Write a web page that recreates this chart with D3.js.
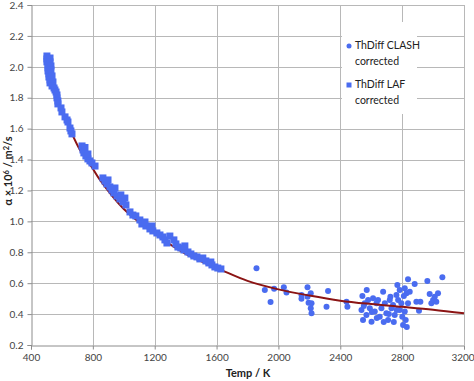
<!DOCTYPE html>
<html><head><meta charset="utf-8">
<script src="https://cdn.jsdelivr.net/npm/d3@7"></script>
<style>
html,body{margin:0;padding:0;background:#fff;}
text{font-family:Lato,"Noto Sans",sans-serif;}
</style></head>
<body><svg id="c" width="474" height="381"></svg>
<script>
// ---- data ----
const xTicks = [400, 800, 1200, 1600, 2000, 2400, 2800, 3200];
const yTicks = [0.2, 0.4, 0.6, 0.8, 1.0, 1.2, 1.4, 1.6, 1.8, 2.0, 2.2, 2.4];
const xTickLabels = ["400","800","1200","1600","2000","2400","2800","3200"];
const yTickLabels = ["0.2","0.4","0.6","0.8","1.0","1.2","1.4","1.6","1.8","2.0","2.2","2.4"];
const seriesNames = ["ThDiff CLASH corrected", "ThDiff LAF corrected"];
// LAF (squares): [T, alpha]
const lafT = [503,503,503,510,510,510,516,516,523,523,523,523,529,529,536,542,536,549,555,562,568,568,574,574,594,600,620,633,639,652,658,665,730,736,742,755,768,781,794,814,865,878,891,910,923,936,956,975,995,1014,1040,1059,1078,1104,1117,1143,1169,1188,1214,1234,1253,1266,1279,1324,1337,1350,1369,1389,1415,1434,1453,1473,1492,1531,1550,1570,1589,1608,1628,898,943,981,1007,1137,1182,1298,1395,1511,1563,768,749];
const lafA = [2.07,2.051,2.032,2.012,1.993,1.973,1.954,1.934,1.915,1.896,2.057,2.032,2.006,1.98,1.941,1.902,1.876,1.863,1.85,1.837,1.818,1.799,1.779,1.76,1.734,1.708,1.676,1.656,1.643,1.604,1.585,1.566,1.488,1.462,1.443,1.423,1.404,1.391,1.378,1.358,1.281,1.261,1.242,1.223,1.203,1.184,1.164,1.145,1.126,1.106,1.061,1.041,1.035,1.009,0.983,0.97,0.951,0.938,0.925,0.912,0.899,0.88,0.86,0.88,0.854,0.834,0.828,0.815,0.802,0.789,0.776,0.77,0.757,0.744,0.731,0.718,0.705,0.698,0.692,1.268,1.216,1.171,1.151,0.996,0.97,0.905,0.841,0.763,0.737,1.436,1.478];
// CLASH (circles): [T, alpha]
const clashT = [1858,1912,1949,1972,2035,2052,2149,2149,2188,2188,2209,2195,2214,2209,2214,2321,2311,2440,2446,2543,2537,2547,2558,2569,2580,2591,2602,2612,2623,2634,2644,2655,2666,2677,2688,2698,2709,2720,2724,2731,2741,2752,2763,2769,2774,2784,2784,2795,2801,2806,2817,2817,2823,2828,2838,2838,2849,2881,2892,2909,2918,2963,2978,2989,3000,3011,3021,3032,3060,2552,2571,2604,2636,2681,2714,2746,2765,2811,2830];
const clashA = [0.696,0.556,0.478,0.564,0.573,0.539,0.524,0.5,0.573,0.513,0.535,0.474,0.47,0.437,0.405,0.549,0.448,0.48,0.448,0.517,0.427,0.362,0.47,0.394,0.491,0.437,0.351,0.502,0.416,0.47,0.491,0.383,0.437,0.545,0.47,0.405,0.362,0.491,0.513,0.437,0.459,0.394,0.524,0.588,0.491,0.556,0.427,0.47,0.383,0.329,0.567,0.416,0.362,0.535,0.625,0.47,0.545,0.595,0.48,0.422,0.48,0.614,0.53,0.47,0.491,0.513,0.48,0.535,0.638,0.452,0.556,0.414,0.375,0.349,0.401,0.349,0.427,0.517,0.316];
// fitted curve
const fitT = [500,587,650,717,800,846,1000,1200,1400,1632,1800,2000,2200,2400,2600,2800,3000,3200];
const fitA = [2.02,1.742,1.60,1.462,1.34,1.268,1.08,0.92,0.79,0.685,0.615,0.56,0.52,0.487,0.465,0.447,0.428,0.405];

// ---- drawing ----
const svg = d3.select("#c");
svg.append("rect").attr("width",474).attr("height",381).attr("fill","#fff");
const L=31, R=464, T=5, B=345;
const x = d3.scaleLinear().domain([400,3200]).range([L,R]);
const y = d3.scaleLinear().domain([0.2,2.4]).range([B,T]);
const blue = "#4a6cf0";

const grid = svg.append("g");
grid.selectAll("line.v").data(xTicks.slice(1)).join("line")
  .attr("x1",d=>Math.round(x(d))+0.5).attr("x2",d=>Math.round(x(d))+0.5)
  .attr("y1",T).attr("y2",B).attr("stroke","#b8b8b8").attr("stroke-width",1);
grid.selectAll("line.h").data(yTicks.slice(1)).join("line")
  .attr("y1",d=>Math.round(y(d))+0.5).attr("y2",d=>Math.round(y(d))+0.5)
  .attr("x1",L).attr("x2",R).attr("stroke","#b8b8b8").attr("stroke-width",1);

const xAxis = d3.axisBottom(x).tickValues(xTicks).tickFormat((d,i)=>xTickLabels[i]).tickSize(4).tickPadding(4);
const yAxis = d3.axisLeft(y).tickValues(yTicks).tickFormat((d,i)=>yTickLabels[i]).tickSize(4).tickPadding(4);
const gx = svg.append("g").attr("transform",`translate(0,${B+0.5})`).call(xAxis);
const gy = svg.append("g").attr("transform",`translate(${L+0.5},0)`).call(yAxis);
[gx,gy].forEach(g=>{
  g.select(".domain").attr("stroke","#8c8c8c");
  g.selectAll(".tick line").attr("stroke","#8c8c8c");
  g.selectAll(".tick text").attr("fill","#444").style("font-size","10px").style("font-family","Lato,'Noto Sans',sans-serif");
});
gy.selectAll(".tick text").attr("x",-8);
gx.selectAll(".tick text").filter((d,i)=>i===xTicks.length-1).attr("dx",-1.5);

// CLASH circles
const clash = clashT.map((t,i)=>[t,clashA[i]]);
svg.append("g").selectAll("circle").data(clash).join("circle")
  .attr("cx",d=>x(d[0])).attr("cy",d=>y(d[1])).attr("r",3)
  .attr("fill",blue);

// fit curve
const fit = fitT.map((t,i)=>[t,fitA[i]]);
svg.append("path").datum(fit)
  .attr("d",d3.line().x(d=>x(d[0])).y(d=>y(d[1])).curve(d3.curveCatmullRom))
  .attr("fill","none").attr("stroke","#8b1414").attr("stroke-width",2);

// LAF squares
const laf = lafT.map((t,i)=>[t,lafA[i]]);
const sq = 7;
svg.append("g").selectAll("rect").data(laf).join("rect")
  .attr("x",d=>x(d[0])-sq/2).attr("y",d=>y(d[1])-sq/2).attr("width",sq).attr("height",sq)
  .attr("fill",blue);

// legend
const lg = svg.append("g");
lg.append("rect").attr("x",342).attr("y",22).attr("width",75).attr("height",92).attr("fill","#fff");
lg.append("circle").attr("cx",349).attr("cy",46).attr("r",2.5).attr("fill",blue);
lg.append("rect").attr("x",346.5).attr("y",82.5).attr("width",5).attr("height",5).attr("fill",blue);
const legLines = [[seriesNames[0].replace(" corrected",""),49],["corrected",65],[seriesNames[1].replace(" corrected",""),88],["corrected",104]];
lg.selectAll("text").data(legLines).join("text")
  .attr("x",355).attr("y",d=>d[1]).text(d=>d[0])
  .attr("fill","#222").style("font-size","10.5px");

// axis titles
svg.append("text").attr("x",248).attr("y",377).attr("text-anchor","middle")
  .style("font-size","11px").style("font-weight","bold").attr("fill","#222").text("Temp / K");
const yt = svg.append("text").attr("transform","translate(12,171) rotate(-90)").attr("text-anchor","middle")
  .style("font-size","11px").style("font-weight","bold").attr("fill","#222");
yt.append("tspan").text("α × 10");
yt.append("tspan").attr("dy",-3).style("font-size","7.5px").text("6");
yt.append("tspan").attr("dy",3).text(" / m");
yt.append("tspan").attr("dy",-3).style("font-size","7.5px").text("2");
yt.append("tspan").attr("dy",3).text("/s");
</script></body></html>
